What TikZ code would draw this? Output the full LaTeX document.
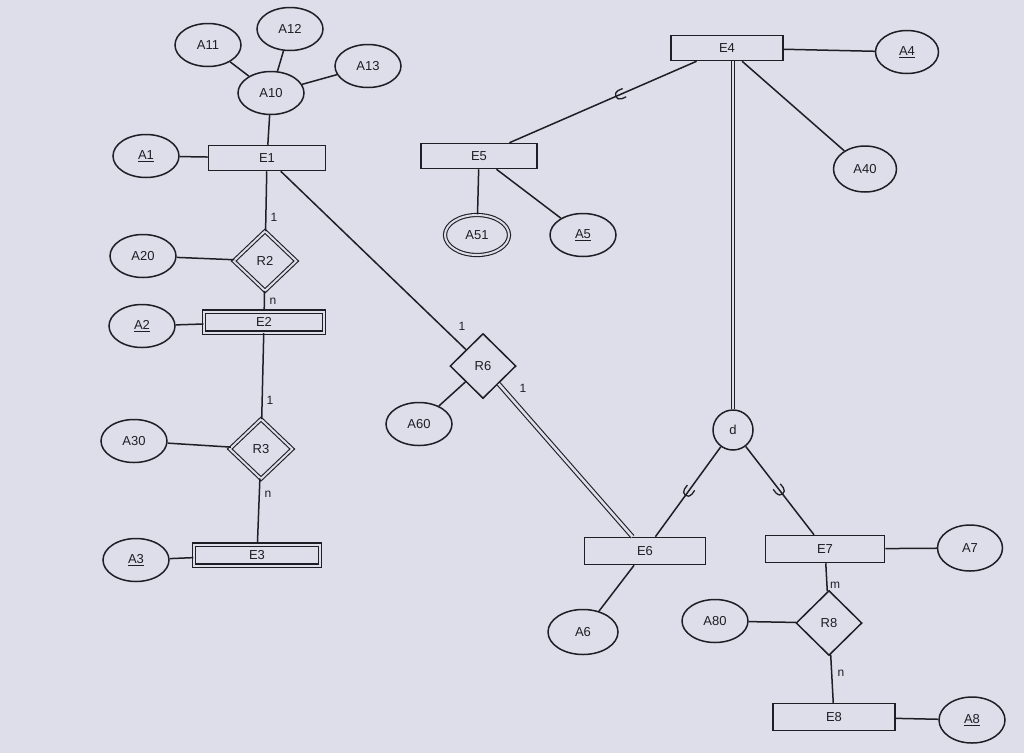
\documentclass[tikz,border=0pt]{standalone}
\usepackage{fontspec}
\setmainfont{Liberation Sans}
\usetikzlibrary{shapes.geometric,decorations.markings}
\definecolor{paper}{RGB}{221,222,234}
\definecolor{ink}{RGB}{30,30,36}
\begin{document}
\begin{tikzpicture}[x=1pt,y=-1pt,
  every node/.style={font=\fontsize{13}{15}\selectfont, text=ink},
  conn/.style={draw=ink, line width=1.5pt},
  dconn/.style={draw=ink, line width=1.1pt, double=paper, double distance=2.6pt},
  attr/.style={ellipse, draw=ink, line width=1.5pt, minimum width=66, minimum height=43, inner sep=0pt},
  dattr/.style={ellipse, draw=ink, line width=1.1pt, double=paper, double distance=2pt, minimum width=64, minimum height=40, inner sep=0pt},
  ent/.style={rectangle, draw=ink, line width=1.5pt, minimum height=25, inner sep=0pt},
  went/.style={rectangle, draw=ink, line width=1.1pt, double=paper, double distance=2pt, minimum height=21, inner sep=0pt},
  rel/.style={diamond, draw=ink, line width=1.5pt, aspect=1, minimum width=66, minimum height=65, inner sep=0pt},
  wrel/.style={diamond, draw=ink, line width=1.1pt, double=paper, double distance=2pt, aspect=1, minimum width=63, minimum height=60, inner sep=0pt},
  dcirc/.style={circle, draw=ink, line width=1.5pt, minimum size=40, inner sep=0pt},
  card/.style={font=\fontsize{12}{14}\selectfont, inner sep=0pt},
  subsetmark/.style={postaction={decorate, decoration={markings,
     mark=at position #1 with {\draw[ink, line width=1.3pt] (-5pt,4.5pt) -- (0pt,4.5pt) arc[start angle=90, end angle=-90, radius=4.5pt] -- (-5pt,-4.5pt);}}}}
]
\fill[paper] (0,0) rectangle (1024,753);
\useasboundingbox (0,0) rectangle (1024,753);

% left column
\node[attr] (A11) at (208,45) {A11};
\node[attr] (A12) at (290,29) {A12};
\node[attr] (A13) at (368,66) {A13};
\node[attr] (A10) at (271,93) {A10};
\node[ent, minimum width=117] (E1) at (267,158) {E1};
\node[attr] (A1) at (146,156) {\underline{A1}};
\node[wrel] (R2) at (265,261) {R2};
\node[attr] (A20) at (143,256) {A20};
\node[went, minimum width=120] (E2) at (264,322) {E2};
\node[attr] (A2) at (142,326) {\underline{A2}};
\node[wrel] (R3) at (261,449) {R3};
\node[attr] (A30) at (134,441) {A30};
\node[went, minimum width=126] (E3) at (257,555) {E3};
\node[attr] (A3) at (136,560) {\underline{A3}};

% middle
\node[rel] (R6) at (483,366) {R6};
\node[attr] (A60) at (419,424) {A60};
\node[ent, minimum width=116] (E5) at (479,156) {E5};
\node[dattr] (A51) at (477,235) {A51};
\node[attr] (A5) at (583,235) {\underline{A5}};

% right
\node[ent, minimum width=112] (E4) at (727,48) {E4};
\node[attr, minimum width=63] (A4) at (907,52) {\underline{A4}};
\node[attr, minimum width=63, minimum height=46] (A40) at (865,169) {A40};
\node[dcirc] (d) at (733,430) {d};
\node[ent, minimum width=121, minimum height=27] (E6) at (645,551) {E6};
\node[attr, minimum width=70, minimum height=45] (A6) at (583,632) {A6};
\node[ent, minimum width=119, minimum height=27] (E7) at (825,549) {E7};
\node[attr, minimum width=65, minimum height=46] (A7) at (970,548) {A7};
\node[rel] (R8) at (829,623) {R8};
\node[attr] (A80) at (715,621) {A80};
\node[ent, minimum width=122, minimum height=27] (E8) at (834,717) {E8};
\node[attr, minimum width=66, minimum height=46] (A8) at (972,720) {\underline{A8}};

% connectors
\draw[conn] (A11) -- (A10);
\draw[conn] (A12) -- (A10);
\draw[conn] (A13) -- (A10);
\draw[conn] (A10) -- (E1);
\draw[conn] (A1) -- (E1);
\draw[conn] (E1) -- (R2);
\draw[conn] (A20) -- (R2);
\draw[conn] (R2) -- (E2);
\draw[conn] (A2) -- (E2);
\draw[conn] (E2) -- (R3);
\draw[conn] (A30) -- (R3);
\draw[conn] (R3) -- (E3);
\draw[conn] (A3) -- (E3);
\draw[conn] (E1) -- (R6);
\draw[conn] (A60) -- (R6);
\draw[dconn] (R6) -- (E6);
\draw[conn] (E6) -- (A6);
\draw[conn] (E4) -- (A4);
\draw[conn] (E4) -- (A40);
\draw[conn, subsetmark=0.41] (E4) -- (E5);
\draw[conn] (E5) -- (A51);
\draw[conn] (E5) -- (A5);
\draw[dconn] (E4.south -| d.north) -- (d.north);
\draw[conn, subsetmark=0.5] (d) -- (E6);
\draw[conn, subsetmark=0.5] (d) -- (E7);
\draw[conn] (E7) -- (A7);
\draw[conn] (E7) -- (R8);
\draw[conn] (A80) -- (R8);
\draw[conn] (R8) -- (E8);
\draw[conn] (E8) -- (A8);

% cardinalities
\node[card] (c1) at (274,217) {1};
\node[card] (c2) at (273,301) {n};
\node[card] (c3) at (270,400) {1};
\node[card] (c4) at (268,494) {n};
\node[card] (c5) at (462,326) {1};
\node[card] (c6) at (523,388) {1};
\node[card] (c7) at (835,585) {m};
\node[card] (c8) at (841,673) {n};
\end{tikzpicture}
\end{document}
